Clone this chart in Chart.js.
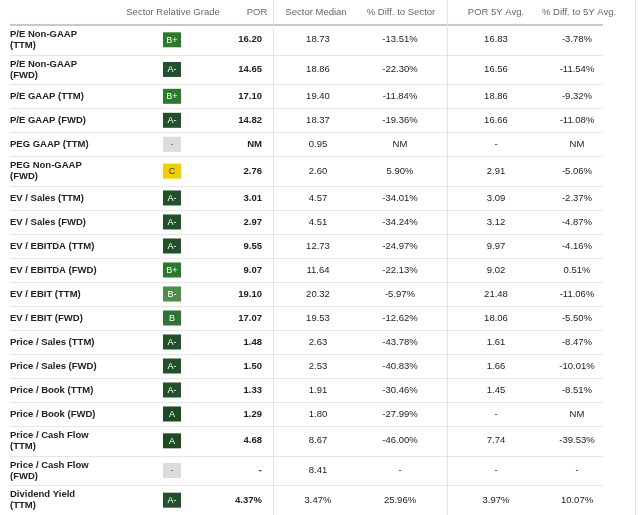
<!DOCTYPE html>
<html>
<head>
<meta charset="utf-8">
<script src="https://cdn.jsdelivr.net/npm/chart.js@4"></script>
<style>
  html, body { margin: 0; padding: 0; background: #fff; }
  #wrap { width: 640px; height: 515px; }
</style>
</head>
<body>
<div id="wrap"><canvas id="gradeChart"></canvas></div>
<script>
// Table data
const headers = ['Sector Relative Grade', 'POR', 'Sector Median', '% Diff. to Sector', 'POR 5Y Avg.', '% Diff. to 5Y Avg.'];
const metrics = [
    ['P/E Non-GAAP', '(TTM)'], ['P/E Non-GAAP', '(FWD)'], ['P/E GAAP (TTM)'], ['P/E GAAP (FWD)'],
    ['PEG GAAP (TTM)'], ['PEG Non-GAAP', '(FWD)'], ['EV / Sales (TTM)'], ['EV / Sales (FWD)'],
    ['EV / EBITDA (TTM)'], ['EV / EBITDA (FWD)'], ['EV / EBIT (TTM)'], ['EV / EBIT (FWD)'],
    ['Price / Sales (TTM)'], ['Price / Sales (FWD)'], ['Price / Book (TTM)'], ['Price / Book (FWD)'],
    ['Price / Cash Flow', '(TTM)'], ['Price / Cash Flow', '(FWD)'], ['Dividend Yield', '(TTM)']
];
const grades = ['B+', 'A-', 'B+', 'A-', '-', 'C', 'A-', 'A-', 'A-', 'B+', 'B-', 'B', 'A-', 'A-', 'A-', 'A', 'A', '-', 'A-'];
const porValues = ['16.20', '14.65', '17.10', '14.82', 'NM', '2.76', '3.01', '2.97', '9.55', '9.07', '19.10', '17.07', '1.48', '1.50', '1.33', '1.29', '4.68', '-', '4.37%'];
const sectorMedian = ['18.73', '18.86', '19.40', '18.37', '0.95', '2.60', '4.57', '4.51', '12.73', '11.64', '20.32', '19.53', '2.63', '2.53', '1.91', '1.80', '8.67', '8.41', '3.47%'];
const diffSector = ['-13.51%', '-22.30%', '-11.84%', '-19.36%', 'NM', '5.90%', '-34.01%', '-34.24%', '-24.97%', '-22.13%', '-5.97%', '-12.62%', '-43.78%', '-40.83%', '-30.46%', '-27.99%', '-46.00%', '-', '25.96%'];
const por5y = ['16.83', '16.56', '18.86', '16.66', '-', '2.91', '3.09', '3.12', '9.97', '9.02', '21.48', '18.06', '1.61', '1.66', '1.45', '-', '7.74', '-', '3.97%'];
const diff5y = ['-3.78%', '-11.54%', '-9.32%', '-11.08%', 'NM', '-5.06%', '-2.37%', '-4.87%', '-4.16%', '0.51%', '-11.06%', '-5.50%', '-8.47%', '-10.01%', '-8.51%', 'NM', '-39.53%', '-', '10.07%'];

const gradeColors = {
    'A': '#1d4a20', 'A-': '#21502a', 'B+': '#2b7a2b', 'B': '#2f7432', 'B-': '#4c8f4c',
    'C': '#f0d000', '-': '#dcdcdc'
};
const gradeText = { 'C': '#333', '-': '#666' };

// row heights in "line units"
const headerUnits = 1.04;
const rowUnits = metrics.map(m => m.length > 1 ? 1.236 : 1);
const totalUnits = headerUnits + rowUnits.reduce((a, b) => a + b, 0);

const tablePlugin = {
    id: 'table',
    afterDraw(chart) {
        const ctx = chart.ctx;
        const x = chart.scales.x;
        const y = chart.scales.y;
        const font = (w, s) => `${w} ${s || 9.5}px "Liberation Sans", Arial, sans-serif`;
        ctx.save();
        ctx.textBaseline = 'middle';

        // header
        const hMid = y.getPixelForValue(headerUnits / 2);
        const hx = [173, 257, 316, 401, 496, 579];
        ctx.fillStyle = '#666';
        ctx.font = font('normal');
        ctx.textAlign = 'center';
        headers.forEach((h, i) => ctx.fillText(h, x.getPixelForValue(hx[i]), hMid));
        ctx.fillStyle = '#c8c8c8';
        ctx.fillRect(x.getPixelForValue(10), y.getPixelForValue(headerUnits) - 1, x.getPixelForValue(603) - x.getPixelForValue(10), 2);

        let top = headerUnits;
        metrics.forEach((m, i) => {
            const bottom = top + rowUnits[i];
            const mid = y.getPixelForValue((top + bottom) / 2);
            // label
            ctx.fillStyle = '#222';
            ctx.font = font('bold');
            ctx.textAlign = 'left';
            if (m.length > 1) {
                ctx.fillText(m[0], x.getPixelForValue(10), mid - 5.5);
                ctx.fillText(m[1], x.getPixelForValue(10), mid + 5.5);
            } else {
                ctx.fillText(m[0], x.getPixelForValue(10), mid);
            }
            // badge
            const g = grades[i];
            const bx = x.getPixelForValue(163), bw = x.getPixelForValue(181) - bx;
            ctx.fillStyle = gradeColors[g];
            ctx.fillRect(bx, mid - 7.5, bw, 15);
            ctx.fillStyle = gradeText[g] || '#fff';
            ctx.font = font('normal', 9);
            ctx.textAlign = 'center';
            ctx.fillText(g, bx + bw / 2, mid + 0.5);
            // values
            ctx.fillStyle = '#222';
            ctx.font = font('bold');
            ctx.textAlign = 'right';
            ctx.fillText(porValues[i], x.getPixelForValue(262), mid);
            ctx.font = font('normal');
            ctx.textAlign = 'center';
            ctx.fillText(sectorMedian[i], x.getPixelForValue(318), mid);
            ctx.fillText(diffSector[i], x.getPixelForValue(400), mid);
            ctx.fillText(por5y[i], x.getPixelForValue(496), mid);
            ctx.fillText(diff5y[i], x.getPixelForValue(577), mid);
            // divider
            if (i < metrics.length - 1) {
                ctx.fillStyle = '#e6e6e6';
                ctx.fillRect(x.getPixelForValue(10), Math.round(y.getPixelForValue(bottom)), x.getPixelForValue(603) - x.getPixelForValue(10), 1);
            }
            top = bottom;
        });

        // column separators
        ctx.fillStyle = '#e3e3e3';
        [273, 447].forEach(v => ctx.fillRect(Math.round(x.getPixelForValue(v)), y.getPixelForValue(0), 1, y.getPixelForValue(totalUnits) - y.getPixelForValue(0)));
        ctx.fillRect(Math.round(x.getPixelForValue(635)), y.getPixelForValue(0), 1, y.getPixelForValue(totalUnits) - y.getPixelForValue(0));
        ctx.restore();
    }
};

new Chart(document.getElementById('gradeChart'), {
    type: 'scatter',
    data: { datasets: [{ data: [] }] },
    options: {
        responsive: true,
        maintainAspectRatio: false,
        animation: false,
        layout: { padding: 0 },
        plugins: { legend: { display: false }, tooltip: { enabled: false } },
        scales: {
            x: { type: 'linear', min: 0, max: 640, display: false },
            y: { type: 'linear', min: 0, max: totalUnits, reverse: true, display: false }
        }
    },
    plugins: [tablePlugin]
});
</script>
</body>
</html>
